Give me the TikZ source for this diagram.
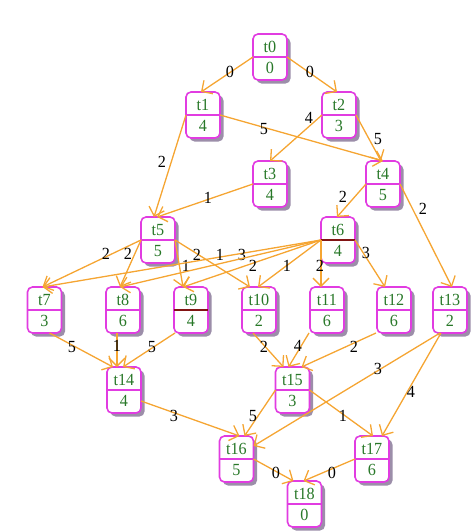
\documentclass[tikz,border=0pt]{standalone}
\usepackage{fontspec}
\setmainfont{Liberation Serif}
\newfontfamily\nodefont[FakeStretch=0.95]{Liberation Serif}
\usetikzlibrary{arrows.meta,shadows,calc}
\definecolor{mag}{RGB}{225,60,225}
\definecolor{grn}{RGB}{40,120,40}
\definecolor{org}{RGB}{245,165,50}
\definecolor{dred}{RGB}{130,20,20}
\definecolor{shd}{RGB}{145,130,160}
\newcommand\tn[6]{%
  \node[tbox] (#1) at (#2,#3) {};
  \draw[#6, line width=1.3pt] (#1.west) -- (#1.east);
  \node[ttext, anchor=base] (#1top) at ([yshift=4.5pt]#1.center) {#4};
  \node[ttext, anchor=base] (#1bot) at ([yshift=-16pt]#1.center) {#5};
}
\begin{document}
\begin{tikzpicture}[x=1pt,y=-1pt,
  tbox/.style={rectangle, rounded corners=5pt, draw=mag, line width=1.6pt, fill=white,
    minimum width=34pt, minimum height=46pt, inner sep=0pt, outer sep=0pt,
    drop shadow={shadow xshift=3.5pt, shadow yshift=-3.5pt, fill=shd, opacity=0.9}},
  ttext/.style={text=grn, font=\nodefont\fontsize{17}{18}\selectfont, inner sep=0pt},
  conn/.style={draw=org, line width=1.3pt, -{Straight Barb[length=8pt,width=16pt]}},
  lbl/.style={font=\nodefont\fontsize{17}{18}\selectfont, text=black, inner sep=0pt}]
\useasboundingbox (0,0) rectangle (474,531);

\tn{t0}{270}{57}{t0}{0}{mag}
\tn{t1}{203}{115}{t1}{4}{mag}
\tn{t2}{339}{115}{t2}{3}{mag}
\tn{t3}{270}{184}{t3}{4}{mag}
\tn{t4}{383}{184}{t4}{5}{mag}
\tn{t5}{158}{240}{t5}{5}{mag}
\tn{t6}{338}{240}{t6}{4}{dred}
\tn{t7}{44.5}{310}{t7}{3}{mag}
\tn{t8}{123}{310}{t8}{6}{mag}
\tn{t9}{191}{310}{t9}{4}{dred}
\tn{t10}{259}{310}{t10}{2}{mag}
\tn{t11}{327}{310}{t11}{6}{mag}
\tn{t12}{394}{310}{t12}{6}{mag}
\tn{t13}{450}{310}{t13}{2}{mag}
\tn{t14}{124}{390}{t14}{4}{mag}
\tn{t15}{292.5}{390}{t15}{3}{mag}
\tn{t16}{236.5}{459}{t16}{5}{mag}
\tn{t17}{372}{459}{t17}{6}{mag}
\tn{t18}{304.5}{504}{t18}{0}{mag}

\draw[conn] (t0.west) -- ([xshift=-2pt]t1.north) node[lbl] (w1) at (230,72) {0};
\draw[conn] (t0.east) -- ([xshift=-2pt]t2.north) node[lbl] (w2) at (310,72) {0};
\draw[conn] (t1.east) -- (t4.north) node[lbl] (w3) at (264,129) {5};
\draw[conn] (t2.west) -- (t3.north) node[lbl] (w4) at (309,118) {4};
\draw[conn] (t2.east) -- ([xshift=-2pt]t4.north) node[lbl] (w5) at (378,139) {5};
\draw[conn] (t1.west) -- ([xshift=-4pt]t5.north) node[lbl] (w6) at (162,162) {2};
\draw[conn] (t3.west) -- ([xshift=-1pt]t5.north) node[lbl] (w7) at (208,198) {1};
\draw[conn] (t4.west) -- ([xshift=-1pt]t6.north) node[lbl] (w8) at (343,197) {2};
\draw[conn] (t4.east) -- ([xshift=2pt]t13.north) node[lbl] (w9) at (423,209) {2};
\draw[conn] (t5.west) -- ([xshift=-2pt]t7.north) node[lbl] (w10) at (106,254) {2};
\draw[conn] (t5.west) -- ([xshift=-3pt]t8.north) node[lbl] (w11) at (128,254) {2};
\draw[conn] (t5.east) -- ([xshift=-8pt]t9.north) node[lbl] (w12) at (186,266) {1};
\draw[conn] (t5.east) -- ([xshift=-9pt]t10.north) node[lbl] (w13) at (197,255) {2};
\draw[conn] (t6.west) -- ([xshift=-2pt]t7.north) node[lbl] (w14) at (242,255) {3};
\draw[conn] (t6.west) -- ([xshift=-3pt]t8.north) node[lbl] (w15) at (220,255) {1};
\draw[conn] (t6.west) -- ([xshift=-8pt]t9.north) node[lbl] (w16) at (253,266) {2};
\draw[conn] (t6.west) -- ([xshift=-1pt]t10.north) node[lbl] (w17) at (287,266) {1};
\draw[conn] (t6.west) -- ([xshift=-6pt]t11.north) node[lbl] (w18) at (320,266) {2};
\draw[conn] (t6.east) -- ([xshift=-9pt]t12.north) node[lbl] (w19) at (366,253) {3};
\draw[conn] ([xshift=5pt]t7.south) -- ([xshift=-11pt]t14.north) node[lbl] (w20) at (72,347) {5};
\draw[conn] ([xshift=-6pt]t8.south) -- ([xshift=-7pt]t14.north) node[lbl] (w21) at (117,346) {1};
\draw[conn] ([xshift=1pt]t9.south west) -- ([xshift=-1pt]t14.north) node[lbl] (w22) at (152,347) {5};
\draw[conn] ([xshift=-6pt]t10.south) -- ([xshift=-9pt]t15.north) node[lbl] (w23) at (264,347) {2};
\draw[conn] ([xshift=-1pt]t11.south west) -- ([xshift=-4pt]t15.north) node[lbl] (w24) at (298,346) {4};
\draw[conn] ([xshift=-1pt]t12.south west) -- ([xshift=9pt]t15.north) node[lbl] (w25) at (354,347) {2};
\draw[conn] ([xshift=-10pt]t13.south) -- ([yshift=13pt]t16.east) node[lbl] (w26) at (378,369) {3};
\draw[conn] ([xshift=-9pt]t13.south) -- ([xshift=10pt]t17.north) node[lbl] (w27) at (411,392) {4};
\draw[conn] ([yshift=-11pt]t14.east) -- ([xshift=3pt]t16.north) node[lbl] (w28) at (174,416) {3};
\draw[conn] (t15.west) -- ([xshift=8pt]t16.north) node[lbl] (w29) at (253,416) {5};
\draw[conn] (t15.east) -- ([xshift=1pt]t17.north) node[lbl] (w30) at (343,416) {1};
\draw[conn] (t16.east) -- ([xshift=-11pt]t18.north) node[lbl] (w31) at (276,473) {0};
\draw[conn] (t17.west) -- ([xshift=-1pt]t18.north) node[lbl] (w32) at (332,473) {0};
\end{tikzpicture}
\end{document}
